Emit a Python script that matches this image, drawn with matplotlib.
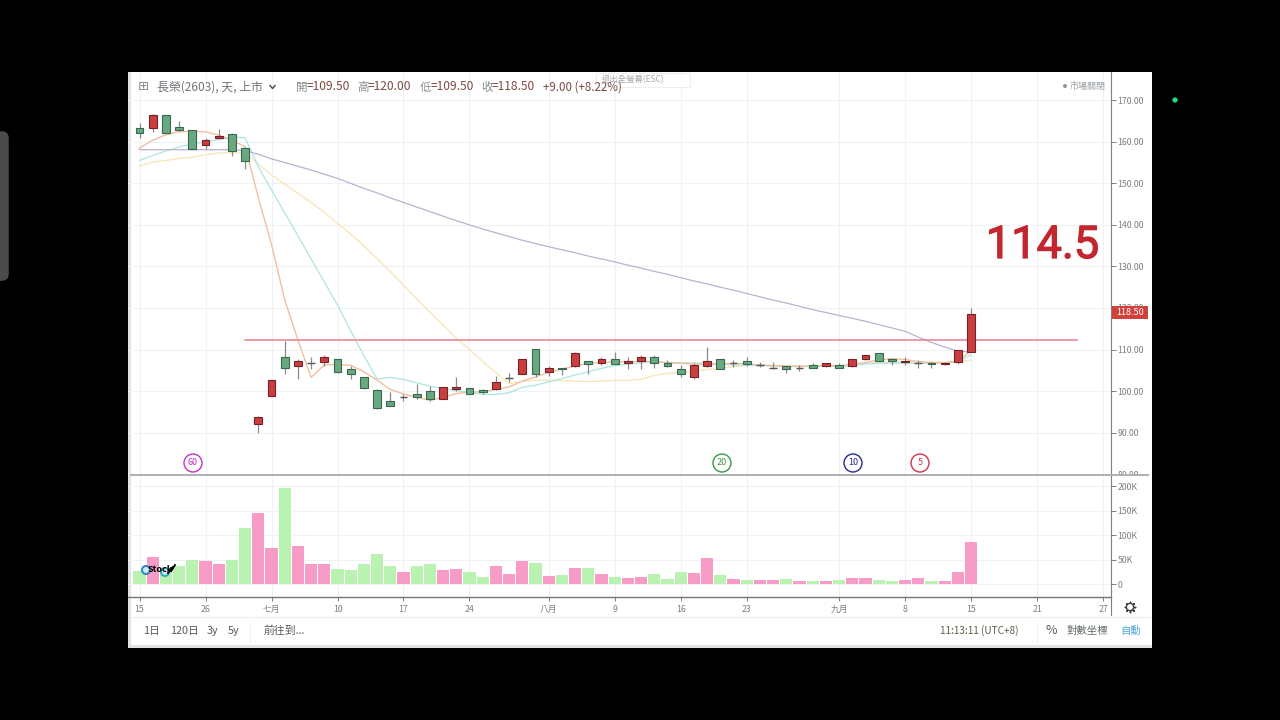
import matplotlib
matplotlib.use("Agg")
import matplotlib.pyplot as plt
import matplotlib.patheffects as pe
from matplotlib.patches import Rectangle, FancyBboxPatch, Circle

plt.rcParams['font.family'] = ['Noto Sans CJK TC', 'DejaVu Sans']

# ---------- data ----------
opens = [163.4,163.4,166.5,163.5,162.8,159.3,160.8,161.9,158.4,92.0,98.9,108.1,106.1,106.7,107.1,107.8,
         105.3,103.3,100.2,97.7,98.6,99.3,100.0,98.2,100.6,100.7,100.2,100.6,103.2,104.2,110.1,104.65,
         105.6,106.1,107.2,106.65,107.8,106.65,107.2,108.2,106.8,105.3,103.5,106.1,107.8,106.8,107.3,106.2,
         105.6,106.1,105.6,106.2,106.0,106.2,106.1,107.8,109.2,107.8,107.1,106.7,106.7,106.6,107.1,109.5]
highs = [164.5,166.8,166.5,164.9,162.8,160.9,163.0,162.2,158.8,93.9,102.7,112.1,107.7,108.1,108.7,107.8,
         106.1,103.3,100.6,99.7,99.4,101.7,101.2,101.0,103.3,100.7,100.5,103.6,104.3,107.8,110.1,106.1,
         105.6,109.3,107.3,108.1,109.3,108.1,108.7,108.7,107.5,106.3,106.7,110.7,107.8,107.5,108.1,107.0,
         107.0,106.1,106.3,106.7,106.8,106.7,107.8,108.7,109.2,107.8,108.1,107.5,106.9,106.9,110.0,120.0]
lows = [161.0,162.4,162.2,162.5,158.2,158.2,160.8,156.5,153.4,89.8,98.9,104.2,102.8,105.3,106.1,104.3,
        102.8,100.4,95.8,96.5,97.6,98.2,97.6,98.2,100.1,99.3,99.3,100.2,102.2,104.2,103.5,103.7,
        103.8,105.9,104.2,106.3,106.5,105.3,105.3,105.6,105.7,103.3,102.8,105.9,105.2,105.7,106.1,105.9,
        105.3,104.25,104.9,105.5,105.9,105.5,105.9,107.5,107.2,106.3,106.3,105.5,105.6,106.3,106.6,109.5]
closes = [162.2,166.5,162.2,162.8,158.2,160.4,161.5,157.8,155.4,93.7,102.7,105.6,107.2,106.7,108.2,104.65,
          104.2,100.7,96.0,96.5,98.6,98.6,98.2,101.0,101.1,99.4,99.8,102.2,103.2,107.8,104.2,105.6,
          105.2,109.2,106.6,107.8,106.6,107.3,108.2,106.65,106.1,104.2,106.2,107.2,105.2,106.8,106.6,106.2,
          105.6,105.2,105.6,105.6,106.65,105.5,107.8,108.7,107.2,107.2,107.3,106.7,106.6,106.7,109.9,118.5]
volumes = [27,55,30,36,49,48,40,49,114,145,73,197,77,41,41,31,29,40,62,36,25,36,40,29,31,25,15,36,20,48,43,16,
           18,33,32,20,15,13,15,21,10,24,23,53,18,10,8,8,8,10,5.5,5.5,7,8,13,12,8,6,7.5,12,5.5,7,25,86]
ma5 = [158.5,160.4,161.7,162.4,162.5,162.4,161.6,160.4,158.8,146.6,135.3,122.0,112.3,103.3,106.3,106.4,
       106.2,104.65,102.65,100.4,99.3,98.5,97.8,98.5,99.4,99.8,99.8,100.4,101.0,102.4,103.4,104.5,
       105.3,106.0,106.7,106.8,107.1,107.1,107.1,107.1,106.8,106.7,106.5,106.5,106.5,106.7,106.5,106.3,
       106.1,106.0,106.0,106.0,106.1,106.1,106.4,106.9,107.5,107.8,107.6,107.1,106.9,106.8,107.2,109.7]
ma10 = [155.5,156.7,157.8,158.75,159.55,160.0,160.5,161.1,161.0,154.0,148.4,142.9,137.4,131.8,126.3,120.7,
        114.5,108.5,102.9,103.3,102.8,102.0,101.2,100.6,100.1,99.7,99.2,99.2,99.6,100.9,101.4,102.2,
        103.0,103.85,104.65,105.45,106.1,106.5,106.8,107.1,106.9,106.8,106.8,106.7,106.5,106.25,106.25,106.1,
        106.0,105.9,105.9,105.9,106.0,106.0,106.1,106.5,106.7,106.7,106.7,106.7,106.7,106.8,107.1,108.7]
ma20 = [154.2,155.1,155.5,156.0,156.3,156.9,157.3,157.4,157.3,154.6,152.0,149.8,147.6,145.4,143.0,140.4,
        137.8,134.9,131.9,128.8,125.5,122.2,119.0,115.9,112.7,110.0,107.1,104.4,101.8,102.4,102.6,102.6,
        102.5,102.4,102.3,102.4,102.6,102.6,102.8,103.8,104.25,104.5,104.8,105.2,105.45,105.85,106.25,106.25,
        106.2,106.1,106.0,106.0,106.0,106.0,106.4,106.65,106.9,107.0,107.0,107.0,106.9,106.9,107.0,107.5]
ma60 = [158.1,158.1,158.1,158.1,158.1,158.1,158.1,158.1,157.9,157.0,155.9,155.0,154.1,153.2,152.2,151.2,
        150.0,148.8,147.7,146.5,145.4,144.3,143.2,142.1,141.0,140.0,139.0,138.1,137.2,136.3,135.5,134.75,
        134.0,133.3,132.5,131.8,131.1,130.3,129.6,128.8,128.1,127.3,126.5,125.8,125.0,124.3,123.5,122.7,
        121.9,121.2,120.4,119.6,118.9,118.2,117.5,116.8,116.0,115.2,114.4,113.0,111.7,110.6,109.6,109.4]
level = 112.2
level_span = [8, 71]
price_ticks = [80,90,100,110,120,130,140,150,160,170]
volume_ticks = [0,50,100,150,200]
volume_labels = ['0','50K','100K','150K','200K']
date_positions = [0,5,10,15,20,25,31,36,41,46,53,58,63,68,73]
date_labels = ['15','26','七月','10','17','24','八月','9','16','23','九月','8','15','21','27']

# ---------- layout helpers ----------
W, H = 1280, 720
X0, STEP = 139.5, 13.2
PL, PR = 128, 1111
def box(l, t, r, b):
    return [l / W, 1 - b / H, (r - l) / W, (b - t) / H]
xlim = ((PL - X0) / STEP, (PR - X0) / STEP)
GRID = '#edf3f5'
xs = list(range(len(opens)))

fig = plt.figure(figsize=(12.8, 7.2), dpi=100, facecolor='black')

# chrome underlay
bg = fig.add_axes([0, 0, 1, 1], zorder=0)
bg.set_xlim(0, W); bg.set_ylim(H, 0); bg.axis('off')
bg.add_patch(Rectangle((128, 72), 1024, 576, fc='white', ec='none'))
bg.add_patch(Rectangle((128, 72), 2.5, 576, fc='#dfe3e6', ec='none'))
bg.add_patch(Rectangle((128, 645), 1024, 3, fc='#dfe3e6', ec='none'))
bg.add_patch(FancyBboxPatch((-6, 134), 12, 144, boxstyle='round,pad=0,rounding_size=4', fc='#4a4a4a', ec='#4a4a4a', lw=4))
bg.add_patch(Circle((1175, 100), 2.6, fc='#19e07a', ec='none'))
bg.plot([130, 1151], [617, 617], color='#eceff1', lw=0.8, solid_capstyle='butt')
bg.plot([250, 250], [622, 642], color='#eef1f3', lw=0.8)
bg.plot([1037, 1037], [622, 642], color='#eef1f3', lw=0.8)

# price pane
ax = fig.add_axes(box(PL, 72, PR, 475), zorder=1, facecolor='none')
ax.set_xlim(*xlim)
ax.set_ylim(79.8, 176.8)
ax.set_yticks(price_ticks)
ax.set_yticklabels([f'{v:.2f}' for v in price_ticks])
ax.yaxis.tick_right()
ax.set_xticks(date_positions)
ax.tick_params(axis='x', length=0, labelbottom=False)
ax.tick_params(axis='y', length=3.5, width=0.7, color='#808080', labelcolor='#7a7f83', labelsize=6.3, pad=1)
ax.grid(True, color=GRID, lw=0.8)
ax.set_axisbelow(True)
for s in ['top', 'left', 'bottom']:
    ax.spines[s].set_visible(False)
ax.spines['right'].set_color('#808080')

for series, col, lw in [(ma20, '#f9e4b4', 0.9), (ma10, '#abe6e2', 0.9), (ma5, '#f1bf9f', 1.0), (ma60, '#bcb1d2', 0.9)]:
    ax.plot(xs, series, color=col, lw=lw, zorder=2)
ax.plot(level_span, [level, level], color='#e8808f', lw=1.1, zorder=2.5)

RED, RED_E, GRN, GRN_E = '#cb3e40', '#742226', '#69a981', '#3a6650'
for i in xs:
    up = closes[i] >= opens[i]
    flat = abs(closes[i] - opens[i]) < 0.05
    ax.vlines(i, lows[i], highs[i], color='#8a8a8a', lw=0.9, zorder=3)
    lo, hi = min(opens[i], closes[i]), max(opens[i], closes[i])
    if flat:
        ax.hlines(opens[i], i - 0.3, i + 0.3, color='#555555', lw=1.0, zorder=4)
    else:
        ax.bar(i, hi - lo, bottom=lo, width=0.6, color=RED if up else GRN,
               edgecolor=RED_E if up else GRN_E, lw=0.8, zorder=4)

# volume pane
av = fig.add_axes(box(PL, 476, PR, 597), zorder=1, facecolor='none')
av.set_xlim(*xlim)
av.set_ylim((584 - 597) / 0.488, (584 - 476) / 0.488)
av.bar(xs, volumes, width=0.93,
       color=['#f69cc6' if closes[i] >= opens[i] else '#b9f2b1' for i in xs], zorder=3)
av.yaxis.tick_right()
av.set_yticks(volume_ticks)
av.set_yticklabels(volume_labels)
av.set_xticks(date_positions)
av.set_xticklabels(date_labels)
av.tick_params(axis='y', length=3.5, width=0.7, color='#808080', labelcolor='#7a7f83', labelsize=6.3, pad=1)
av.tick_params(axis='x', length=3, width=0.7, color='#808080', labelcolor='#7a7f83', labelsize=6.3, pad=3)
av.grid(True, color=GRID, lw=0.8)
av.set_axisbelow(True)
for s in ['top', 'left']:
    av.spines[s].set_visible(False)
av.spines['right'].set_color('#808080')
av.spines['bottom'].set_color('#757575')
av.spines['bottom'].set_linewidth(1.0)

# overlay text and decorations
ov = fig.add_axes([0, 0, 1, 1], zorder=5, facecolor='none')
ov.set_xlim(0, W); ov.set_ylim(H, 0); ov.axis('off')
ov.add_patch(Rectangle((1112.5, 476), 39, 6, fc='white', ec='none'))
ov.plot([1111, 1111], [597, 615], color='#808080', lw=0.8)
ov.plot([130, 1149], [475, 475], color='#aeb1b3', lw=1.4, solid_capstyle='butt')

def T(x, y, s, c='#6f7478', fs=8.3, ha='left', **k):
    return ov.text(x, y, s, color=c, fontsize=fs, ha=ha, va='center', **k)

T(138, 87, '⊞', '#8a8f93', 9.5)
T(157, 87, '長榮(2603), 天, 上市', '#70757a', 8.6)
ov.plot([270, 272.5, 275], [85.5, 88.5, 85.5], color='#444444', lw=1)
dark = '#7a4a42'
for x, lab, val in [(296, '開', '=109.50'), (357, '高', '=120.00'), (420, '低', '=109.50'), (481, '收', '=118.50')]:
    T(x, 87, lab, '#8a8f93', 8.3)
    T(x + 11, 87, val, dark, 8.6)
T(543, 87, '+9.00 (+8.22%)', dark, 8.3)
ov.add_patch(Rectangle((596, 73), 94, 14, fc='white', ec='#ececec', lw=0.8, alpha=0.85))
T(633, 80, '退出全螢幕(ESC)', '#a9a9a9', 6, ha='center')
ov.add_patch(Circle((1065, 86), 2, fc='#8e9499', ec='none'))
T(1070, 86, '市場關閉', '#9a9ea2', 6.5)
big = T(1042.5, 246, '114.5', '#c4262f', 32.5, ha='center', family='Roboto', fontweight='normal')
big.set_path_effects([pe.withStroke(linewidth=0.9, foreground='#c4262f')])

for x, lab, col in [(193, '60', '#c531c4'), (722, '20', '#3a9a3f'), (853, '10', '#27288f'), (920, '5', '#cf3448')]:
    ov.add_patch(Circle((x, 463), 9, fc='white', ec=col, lw=1.0))
    T(x, 462.5, lab, col, 6.5, ha='center')

ov.add_patch(Rectangle((1112, 306), 36, 13, fc='#d2403c', ec='none'))
T(1130, 312.5, '118.50', 'white', 6.5, ha='center')

for cx, cy, col in [(146, 570, '#2f86c0'), (165, 572, '#2fa6b8')]:
    ov.add_patch(Circle((cx, cy), 4, fc='#cfeaf6', ec=col, lw=1.4))
T(160, 569, 'Stock', 'black', 6.5, ha='center', fontweight='bold')
ov.plot([168, 173, 171, 175], [573, 567, 571, 565], color='black', lw=1.3)

for x, lab in [(143, '1日'), (170, '120日'), (207, '3y'), (228, '5y'), (264, '前往到...')]:
    T(x, 631, lab, '#555a5e', 7.8)
T(940, 631, '11:13:11 (UTC+8)', '#5f5a46', 7.2)
T(1051, 631, '%', '#555a5e', 9, ha='center')
T(1067, 631, '對數坐標', '#666b6f', 7.5)
T(1120, 631, '自動', '#52a7dd', 7.5)

ov.scatter([1130], [607], marker=(8, 2, 0), s=55, color='#444444', lw=1.1, zorder=6)
ov.add_patch(Circle((1130, 607), 3.6, fc='white', ec='#444444', lw=1.0, zorder=7))

fig.savefig('out.png', dpi=100, facecolor='black')
